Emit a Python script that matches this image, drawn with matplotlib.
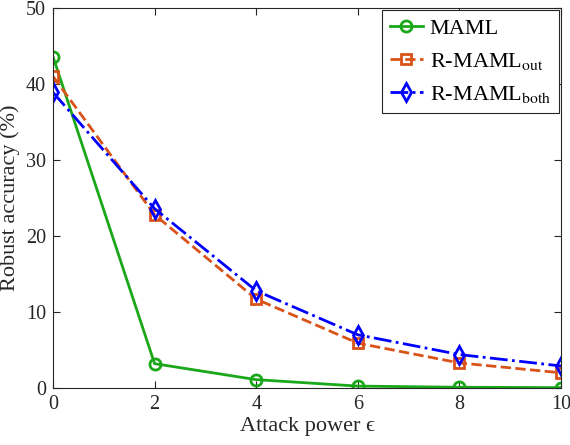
import matplotlib.pyplot as plt
import numpy as np

plt.rcParams['font.family'] = ['Liberation Serif', 'DejaVu Serif']
plt.rcParams['mathtext.fontset'] = 'stix'

## Données
eps = [0, 2, 4, 6, 8, 10]
maml = [43.6, 3.2, 1.1, 0.25, 0.1, 0.05]
rmaml_out = [41.0, 22.8, 11.7, 5.9, 3.3, 2.0]
rmaml_both = [38.9, 23.6, 12.8, 7.0, 4.4, 2.9]

fig = plt.figure(figsize=(5.7, 4.45), dpi=100)
ax = fig.add_axes([53/570, 1 - 388/445, (561-53)/570, (388-8)/445])

ax.plot(eps, maml, '-o', color='#1aa81a', lw=2, ms=8, mfc='none', mew=2, label='MAML')
ax.plot(eps, rmaml_out, '--s', color='#d95319', lw=2, ms=7, mfc='none', mew=2,
        label=r'R-MAML$_{\mathrm{out}}$')
ax.plot(eps, rmaml_both, '-.d', color='#0000ff', lw=2, ms=9, mfc='none', mew=2,
        label=r'R-MAML$_{\mathrm{both}}$')

ax.set_xlim(0, 10)
ax.set_ylim(0, 50)
ax.set_xticks(np.arange(0, 11, 2))
ax.set_yticks(np.arange(0, 51, 10))
ax.tick_params(direction='in', top=True, right=True, labelsize=14.5, length=5,
               colors='#262626', pad=5)
for s in ax.spines.values():
    s.set_color('#262626')
    s.set_linewidth(0.8)

ax.set_xlabel('Attack power \u03f5', fontsize=16, color='#262626', labelpad=2,
              family=['Liberation Serif', 'STIXGeneral', 'DejaVu Serif'])
ax.set_ylabel('Robust accuracy (%)', fontsize=16, color='#262626', labelpad=4)

leg = ax.legend(loc='upper right', fontsize=16, fancybox=False, edgecolor='#262626',
                handlelength=1.5, handletextpad=0.3, borderaxespad=0.1, framealpha=1,
                labelspacing=0.55, borderpad=0.35)
leg.get_frame().set_linewidth(0.8)

fig.savefig('out.png', dpi=100)
